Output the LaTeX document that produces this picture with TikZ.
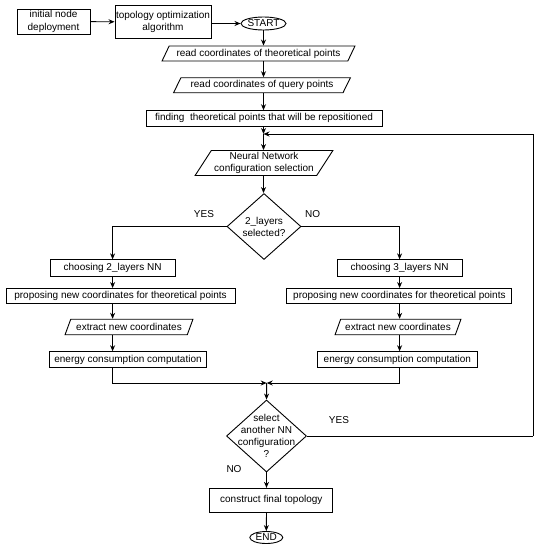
\documentclass[tikz,border=0pt]{standalone}
\usepackage{fontspec}
\setmainfont{Liberation Sans}
\usetikzlibrary{shapes.geometric,arrows.meta}
\begin{document}
\begin{tikzpicture}[x=1pt,y=-1pt,
  every node/.style={font=\fontsize{10}{12.5}\selectfont, inner sep=0pt, align=center},
  box/.style={draw, rectangle, line width=0.9pt},
  io/.style={draw, trapezium, trapezium left angle=55, trapezium right angle=125, trapezium stretches=true, line width=0.9pt},
  term/.style={draw, ellipse, line width=0.9pt},
  dec/.style={draw, diamond, line width=0.9pt},
  conn/.style={line width=0.9pt, -{Stealth[length=6pt,width=5pt]}},
  plain/.style={line width=0.9pt},
  lab/.style={font=\fontsize{10}{12}\selectfont}
]
\useasboundingbox (0,0) rectangle (539,550);
\node[box, minimum width=73, minimum height=25] (init) at (53.5,21.5) {initial node\\deployment};
\node[box, minimum width=96, minimum height=33] (topo) at (163,22) {topology optimization\\algorithm};
\node[term, minimum width=45, minimum height=13] (start) at (263.5,23.5) {START};
\node[io, minimum width=193, minimum height=15] (p1) at (258.5,53.5) {read coordinates of theoretical points};
\node[io, minimum width=177, minimum height=15] (p2) at (262,85.2) {read coordinates of query points};
\node[box, minimum width=236, minimum height=15.5] (find) at (264,118.4) {finding\ \ theoretical points that will be repositioned};
\coordinate (m1) at (263.5,134);
\node[io, minimum width=138, minimum height=25] (nn) at (264,163) {Neural Network\\configuration selection};
\node[dec, minimum width=74, minimum height=66, label={[lab,align=center]center:2\_layers\\selected?}] (d1) at (264,226.5) {};
\node[lab] (yes1) at (204,214) {YES};
\node[lab] (no1) at (312.7,214) {NO};
\node[box, minimum width=125, minimum height=17] (c2) at (112.6,268.3) {choosing 2\_layers NN};
\node[box, minimum width=125, minimum height=17] (c3) at (399.6,268.3) {choosing 3\_layers NN};
\node[box, minimum width=229, minimum height=15] (pl) at (120.5,296) {proposing new coordinates for theoretical points};
\node[box, minimum width=225, minimum height=15] (pr) at (399.4,296) {proposing new coordinates for theoretical points};
\node[io, minimum width=128, minimum height=15.5] (el) at (129,327) {extract new coordinates};
\node[io, minimum width=126, minimum height=15.5] (er) at (398,327) {extract new coordinates};
\node[box, minimum width=157, minimum height=15.6] (gl) at (128,359.5) {energy consumption computation};
\node[box, minimum width=160, minimum height=15.6] (gr) at (397.4,359.5) {energy consumption computation};
\coordinate (m2) at (266.7,383);
\node[dec, minimum width=80, minimum height=72, label={[lab,align=center]center:select\\another NN\\configuration\\?}] (d2) at (266.5,436) {};
\node[lab] (yes2) at (339,420) {YES};
\node[lab] (no2) at (234,469) {NO};
\node[box, minimum width=123, minimum height=24] (fin) at (271.3,500.3) {construct final topology};
\node[term, minimum width=33, minimum height=12] (end) at (266.3,537.5) {END};
\coordinate (rt) at (533,436);

\draw[conn] (init) -- (topo);
\draw[conn] (topo.east |- start.west) -- (start.west);
\draw[conn] (start) -- (start |- p1.north);
\draw[conn] (start |- p1.south) -- (start |- p2.north);
\draw[conn] (start |- p2.south) -- (start |- find.north);
\draw[conn] (m1 |- find.south) -- (m1);
\draw[conn] (m1) -- (m1 |- nn.north);
\draw[conn] (m1 |- nn.south) -- (m1 |- d1.north);
\draw[conn] (d1.west) -| (c2.north);
\draw[conn] (d1.east) -| (c3.north);
\draw[conn] (c2) -- (c2 |- pl.north);
\draw[conn] (c2 |- pl.south) -- (c2 |- el.north);
\draw[conn] (c2 |- el.south) -- (c2 |- gl.north);
\draw[conn] (c2 |- gl.south) |- (m2);
\draw[conn] (c3) -- (c3 |- pr.north);
\draw[conn] (c3 |- pr.south) -- (c3 |- er.north);
\draw[conn] (c3 |- er.south) -- (c3 |- gr.north);
\draw[conn] (c3 |- gr.south) |- (m2);
\draw[conn] (m2) -- (d2.north);
\draw[plain] (d2.east) -- (rt);
\draw[conn] (rt) |- (m1);
\draw[conn] (d2.south) -- (d2.south |- fin.north);
\draw[conn] (d2.south |- fin.south) -- (end.north);
\end{tikzpicture}
\end{document}
